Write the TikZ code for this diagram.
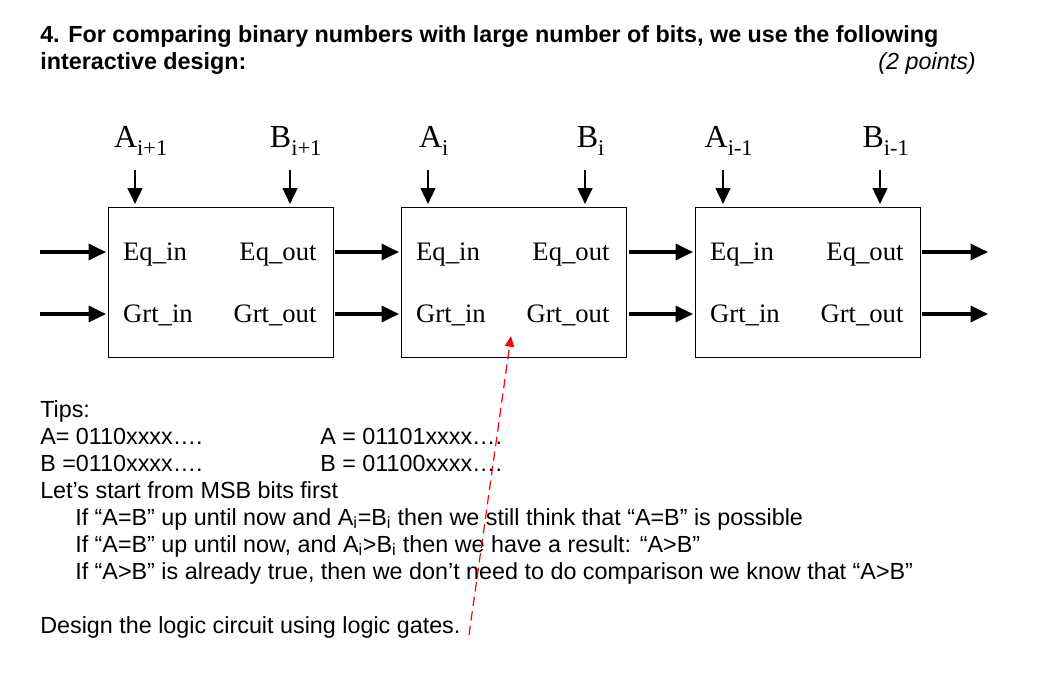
\documentclass[tikz,border=0pt]{standalone}
\usepackage{fontspec}
\setmainfont{Liberation Sans}
\newfontfamily\serif{Liberation Serif}
\usetikzlibrary{arrows.meta}
\begin{document}
\begin{tikzpicture}[x=0.75pt,y=-0.75pt,
  blk/.style={draw,line width=0.8pt,minimum width=225*0.75pt,minimum height=150*0.75pt,inner sep=0,anchor=north west},
  sig/.style={font=\serif\fontsize{20}{20}\selectfont,anchor=base},
  top/.style={font=\serif\fontsize{24}{24}\selectfont,anchor=base},
  harr/.style={line width=2.4pt,-{Triangle[length=13pt,width=12pt]}},
  varr/.style={line width=2pt,-{Triangle[length=12pt,width=11pt]}},
  txt/.style={font=\fontsize{17.5}{17.5}\selectfont,anchor=base west,inner sep=0}]
\useasboundingbox (0,0) rectangle (1061,693);
\node[txt,font=\bfseries\fontsize{17.5}{17.5}\selectfont] (h1) at (40,42) {4. For comparing binary numbers with large number of bits, we use the following};
\node[txt,font=\bfseries\fontsize{17.5}{17.5}\selectfont] (h2) at (40,69) {interactive design:};
\node[txt,anchor=base east,font=\itshape\fontsize{17.5}{17.5}\selectfont] (pts) at (976,69) {(2 points)};
\foreach \n/\x in {1/108,2/401,3/695}{
  \node[blk] (b\n) at (\x,207) {};
  \node[sig] (eqi\n) at (\x+47,260) {Eq\_in};
  \node[sig] (eqo\n) at (\x+170,260) {Eq\_out};
  \node[sig] (gri\n) at (\x+50,322) {Grt\_in};
  \node[sig] (gro\n) at (\x+167,322) {Grt\_out};
}
\foreach \n/\x/\l/\s in {a1/135/A/i+1,b1/290/B/i+1,a2/428/A/i,b2/585/B/i,a3/723/A/i-1,b3/880/B/i-1}{
  \node[top] (t\n) at (\x+6,147) {\l\raisebox{-3pt}{\textsubscript{\s}}};
  \coordinate (s\n) at (\x,170);
  \coordinate (e\n) at (\x,204);
  \draw[varr] (s\n) -- (e\n);
}
\foreach \y/\k in {252/e,314/g}{
  \coordinate (L\k) at (40,\y); \coordinate (L\k e) at (106,\y);
  \draw[harr] (L\k) -- (L\k e);
  \coordinate (M\k) at (335,\y); \coordinate (M\k e) at (399,\y);
  \draw[harr] (M\k) -- (M\k e);
  \coordinate (N\k) at (629,\y); \coordinate (N\k e) at (693,\y);
  \draw[harr] (N\k) -- (N\k e);
  \coordinate (R\k) at (922,\y); \coordinate (R\k e) at (988,\y);
  \draw[harr] (R\k) -- (R\k e);
}
\node[txt] (tips) at (40,417) {Tips:};
\node[txt] (ta) at (40,444) {A= 0110xxxx….};
\node[txt] (tb) at (40,471) {B =0110xxxx….};
\node[txt] (ta2) at (320,444) {A = 01101xxxx….};
\node[txt] (tb2) at (320,471) {B = 01100xxxx….};
\node[txt] (ls) at (40,498) {Let’s start from MSB bits first};
\node[txt] (r1) at (75,525) {If “A=B” up until now and A\textsubscript{i}=B\textsubscript{i} then we still think that “A=B” is possible};
\node[txt] (r2) at (75,552) {If “A=B” up until now, and A\textsubscript{i}>B\textsubscript{i} then we have a result: “A>B”};
\node[txt] (r3) at (75,579) {If “A>B” is already true, then we don’t need to do comparison we know that “A>B”};
\node[txt] (ds) at (40,633) {Design the logic circuit using logic gates.};
\coordinate (rs) at (469,635); \coordinate (re) at (511,336);
\draw[red,line width=0.9pt,dash pattern=on 7pt off 4pt,-{Triangle[length=8pt,width=7pt]}] (rs) -- (re);
\end{tikzpicture}
\end{document}
